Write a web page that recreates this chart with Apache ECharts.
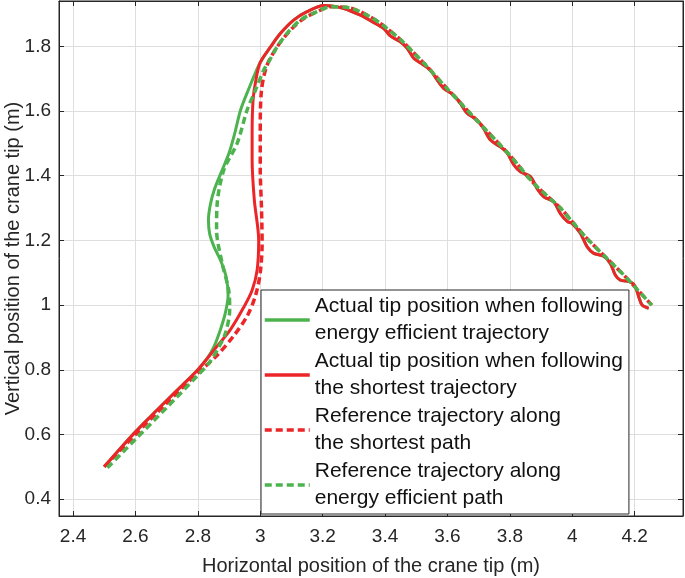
<!DOCTYPE html>
<html>
<head>
<meta charset="utf-8">
<script src="https://cdn.jsdelivr.net/npm/echarts@6/dist/echarts.min.js"></script>
<style>
  html, body { margin: 0; padding: 0; background: #fff; }
  #main { width: 685px; height: 578px; }
</style>
</head>
<body>
<div id="main"></div>
<script>
// axis ranges / ticks
var xRange = [2.355, 4.355];
var yRange = [0.348, 1.94];
var tickStep = 0.2;

// actual tip, energy efficient - rising part
var greenActualRise = [
    [2.5, 0.5], [2.55, 0.555], [2.6, 0.608], [2.65, 0.657], [2.7, 0.705], [2.75, 0.752],
    [2.8, 0.8], [2.83, 0.835], [2.852, 0.872], [2.872, 0.923], [2.888, 0.975], [2.897, 1.03],
    [2.89, 1.09], [2.872, 1.14], [2.852, 1.18], [2.838, 1.22], [2.834, 1.263], [2.84, 1.31],
    [2.853, 1.357], [2.877, 1.415], [2.9, 1.47], [2.918, 1.53], [2.937, 1.603], [2.963, 1.668],
    [2.99, 1.73]
];
// actual tip, shortest - rising part
var redActualRise = [
    [2.5, 0.5], [2.55, 0.555], [2.6, 0.608], [2.65, 0.657], [2.7, 0.705], [2.75, 0.752],
    [2.8, 0.8], [2.855, 0.865], [2.905, 0.925], [2.947, 0.993], [2.974, 1.046], [2.99, 1.108],
    [2.995, 1.2], [2.981, 1.325], [2.974, 1.45], [2.974, 1.53], [2.977, 1.634], [2.985, 1.69]
];
// both actual runs share the top and the wavy descent
var actualTop = [
    [3.0, 1.75], [3.033, 1.798], [3.065, 1.84], [3.107, 1.881], [3.15, 1.907], [3.204, 1.926],
    [3.268, 1.917], [3.321, 1.896], [3.359, 1.876]
];
var actualDescent = [
    [3.396, 1.855], [3.417, 1.832], [3.449, 1.814], [3.471, 1.794], [3.492, 1.763], [3.519, 1.745],
    [3.546, 1.726], [3.567, 1.696], [3.588, 1.67], [3.62, 1.649], [3.642, 1.623], [3.663, 1.593],
    [3.695, 1.572], [3.716, 1.546], [3.738, 1.51], [3.77, 1.489], [3.791, 1.471], [3.813, 1.433],
    [3.834, 1.412], [3.866, 1.397], [3.887, 1.361], [3.909, 1.335], [3.941, 1.319], [3.962, 1.283],
    [3.985, 1.258], [4.0, 1.252], [4.026, 1.222], [4.048, 1.18], [4.069, 1.16], [4.101, 1.151],
    [4.122, 1.129], [4.138, 1.093], [4.154, 1.077], [4.186, 1.072], [4.202, 1.057], [4.213, 1.026],
    [4.224, 1.0], [4.245, 0.99]
];
// reference, shortest path - rising part
var redRefRise = [
    [2.5, 0.5], [2.6, 0.6], [2.7, 0.697], [2.8, 0.79], [2.862, 0.845], [2.915, 0.905],
    [2.958, 0.966], [2.985, 1.03], [3.0, 1.1], [3.006, 1.19], [3.004, 1.3], [3.0, 1.42],
    [3.0, 1.53], [3.003, 1.654], [3.02, 1.737], [3.054, 1.798], [3.097, 1.85], [3.14, 1.886],
    [3.193, 1.912], [3.225, 1.922]
];
// reference, energy efficient path - rising part
var greenRefRise = [
    [2.51, 0.497], [2.6, 0.585], [2.7, 0.683], [2.8, 0.783], [2.835, 0.82], [2.862, 0.861],
    [2.888, 0.912], [2.902, 0.985], [2.899, 1.046], [2.878, 1.129], [2.86, 1.232], [2.862, 1.314],
    [2.883, 1.417], [2.926, 1.5], [2.958, 1.603], [2.985, 1.665], [3.011, 1.726], [3.03, 1.757],
    [3.054, 1.798], [3.086, 1.84], [3.129, 1.881], [3.182, 1.907], [3.225, 1.922]
];
// both references share the descent
var refDescent = [
    [3.289, 1.918], [3.353, 1.891], [3.4, 1.86], [3.45, 1.82], [3.5, 1.772], [3.535, 1.737],
    [3.6, 1.668], [3.7, 1.565], [3.8, 1.463], [3.877, 1.376], [3.962, 1.3], [4.0, 1.258],
    [4.042, 1.211], [4.122, 1.134], [4.16, 1.098], [4.2, 1.057], [4.255, 1.0]
];

var seriesNames = [
    'Actual tip position when following\nenergy efficient trajectory',
    'Actual tip position when following\nthe shortest trajectory',
    'Reference trajectory along\nthe shortest path',
    'Reference trajectory along\nenergy efficient path'
];

var green = '#4db34f';
var red = '#ec2529';
var ink = '#262626';
var font = 'Liberation Sans, Arial, Helvetica, sans-serif';

function tickLabel(v) {
    // only label the multiples of 0.2, not the axis ends
    if (Math.abs(v / tickStep - Math.round(v / tickStep)) > 1e-6) return '';
    return String(Math.round(v * 10) / 10);
}

function makeLine(name, data, color, dashed) {
    return {
        name: name,
        type: 'line',
        data: data,
        symbol: 'none',
        smooth: 0.3,
        animation: false,
        lineStyle: {
            color: color,
            width: dashed ? 3.5 : 3,
            type: dashed ? [7, 4] : 'solid'
        },
        itemStyle: { color: color }
    };
}

function valueAxis(pos, range, withLabels) {
    return {
        type: 'value',
        position: pos,
        min: range[0],
        max: range[1],
        minInterval: tickStep,
        maxInterval: tickStep,
        axisLine: { show: true, onZero: false, lineStyle: { color: ink, width: 1 } },
        axisTick: { show: true, inside: true, length: 5, lineStyle: { color: ink } },
        axisLabel: {
            show: withLabels,
            formatter: tickLabel,
            color: ink,
            fontSize: 19,
            fontFamily: font,
            margin: (pos === 'bottom') ? 11 : 8
        },
        splitLine: { show: withLabels, lineStyle: { color: '#dedede', width: 1 } }
    };
}

function getOption() {
    var xMain = valueAxis('bottom', xRange, true);
    xMain.name = 'Horizontal position of the crane tip (m)';
    xMain.nameLocation = 'middle';
    xMain.nameGap = 40;
    xMain.nameMoveOverlap = false;
    xMain.nameTextStyle = { color: ink, fontSize: 20, fontFamily: font };

    var yMain = valueAxis('left', yRange, true);
    yMain.name = 'Vertical position of the crane tip (m)';
    yMain.nameLocation = 'middle';
    yMain.nameGap = 36;
    yMain.nameMoveOverlap = false;
    yMain.nameTextStyle = { color: ink, fontSize: 20, fontFamily: font };

    return {
        backgroundColor: '#fff',
        animation: false,
        grid: {
            left: 59, right: 2, top: 1, bottom: 62,
            outerBoundsMode: 'none',
            containLabel: false,
            show: true, borderColor: ink, borderWidth: 1, backgroundColor: '#fff'
        },
        xAxis: [xMain, valueAxis('top', xRange, false)],
        yAxis: [yMain, valueAxis('right', yRange, false)],
        legend: {
            orient: 'vertical',
            left: 261,
            top: 290,
            selectedMode: false,
            itemWidth: 45,
            itemHeight: 14,
            itemGap: 1,
            padding: [3, 6, 2, 2],
            backgroundColor: '#fff',
            borderColor: ink,
            borderWidth: 1,
            itemStyle: { opacity: 0 },
            lineStyle: { width: 3.5 },
            textStyle: { color: '#111', fontSize: 21, lineHeight: 27, fontFamily: font },
            data: seriesNames
        },
        series: [
            makeLine(seriesNames[0], greenActualRise.concat(actualTop, actualDescent), green, false),
            makeLine(seriesNames[1], redActualRise.concat(actualTop, actualDescent), red, false),
            makeLine(seriesNames[2], redRefRise.concat(refDescent), red, true),
            makeLine(seriesNames[3], greenRefRise.concat(refDescent), green, true)
        ]
    };
}

var chart = echarts.init(document.getElementById('main'));
chart.setOption(getOption());
</script>
</body>
</html>
